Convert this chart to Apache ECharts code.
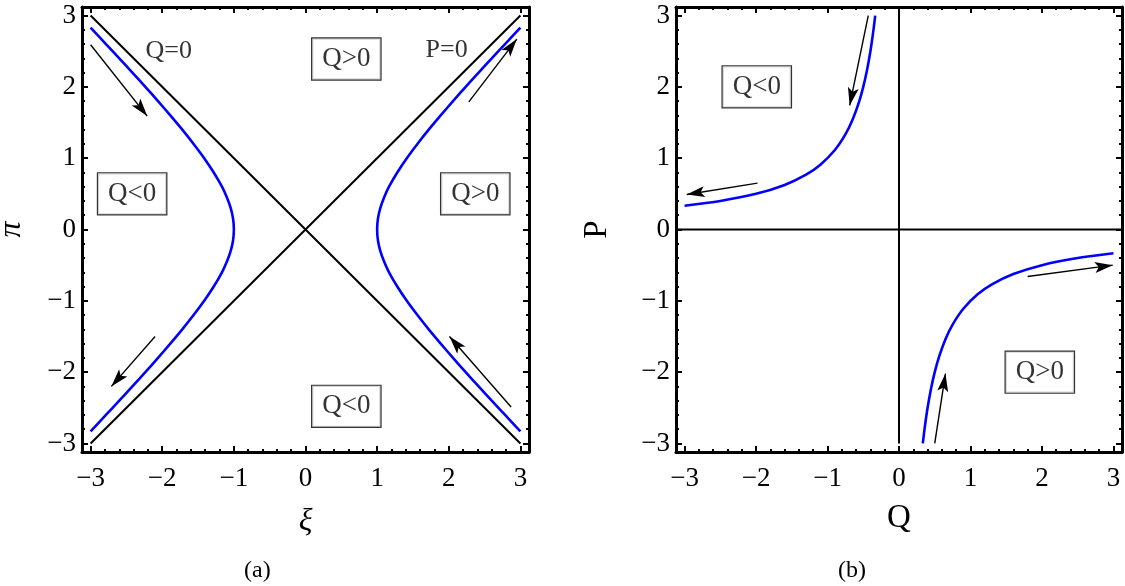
<!DOCTYPE html>
<html>
<head>
<meta charset="utf-8">
<script src="https://cdn.jsdelivr.net/npm/echarts@6/dist/echarts.min.js"></script>
<style>
html,body{margin:0;padding:0;background:#fff;}
#chart{width:1125px;height:586px;}
</style>
</head>
<body>
<div id="chart"></div>
<script>
// ---------- data ----------
const axisMin = -3.12;
const axisMax = 3.12;
const majorTicks = [-3, -2, -1, 0, 1, 2, 3];
const minorTicks = [-3, -2.8, -2.6, -2.4, -2.2, -2, -1.8, -1.6, -1.4, -1.2, -1, -0.8, -0.6, -0.4, -0.2, 0,
  0.2, 0.4, 0.6, 0.8, 1, 1.2, 1.4, 1.6, 1.8, 2, 2.2, 2.4, 2.6, 2.8, 3];

// panel (a): asymptotes and hyperbola branches (xi, pi)
const diagRising = [[-3, -3], [3, 3]];
const diagFalling = [[-3, 3], [3, -3]];
const hyperRight = [[3.0, -2.83], [2.786, -2.6], [2.6, -2.4], [2.417, -2.2], [2.236, -2.0], [2.059, -1.8],
  [1.887, -1.6], [1.72, -1.4], [1.562, -1.2], [1.414, -1.0], [1.281, -0.8], [1.166, -0.6], [1.097, -0.45],
  [1.044, -0.3], [1.011, -0.15], [1.0, 0], [1.011, 0.15], [1.044, 0.3], [1.097, 0.45], [1.166, 0.6],
  [1.281, 0.8], [1.414, 1.0], [1.562, 1.2], [1.72, 1.4], [1.887, 1.6], [2.059, 1.8], [2.236, 2.0],
  [2.417, 2.2], [2.6, 2.4], [2.786, 2.6], [3.0, 2.83]];
const hyperLeft = [[-3.0, -2.83], [-2.786, -2.6], [-2.6, -2.4], [-2.417, -2.2], [-2.236, -2.0], [-2.059, -1.8],
  [-1.887, -1.6], [-1.72, -1.4], [-1.562, -1.2], [-1.414, -1.0], [-1.281, -0.8], [-1.166, -0.6], [-1.097, -0.45],
  [-1.044, -0.3], [-1.011, -0.15], [-1.0, 0], [-1.011, 0.15], [-1.044, 0.3], [-1.097, 0.45], [-1.166, 0.6],
  [-1.281, 0.8], [-1.414, 1.0], [-1.562, 1.2], [-1.72, 1.4], [-1.887, 1.6], [-2.059, 1.8], [-2.236, 2.0],
  [-2.417, 2.2], [-2.6, 2.4], [-2.786, 2.6], [-3.0, 2.83]];
const arrowsA = [
  [[-3.0, 2.59], [-2.21, 1.59]],
  [[-2.10, -1.50], [-2.71, -2.20]],
  [[2.87, -2.49], [2.01, -1.50]],
  [[2.28, 1.79], [2.95, 2.67]]
];
const boxesA = [['Q>0', 0.57, 2.39], ['Q<0', -2.42, 0.50], ['Q>0', 2.37, 0.50], ['Q<0', 0.57, -2.48]];
const notesA = [['Q=0', -1.91, 2.50], ['P=0', 1.97, 2.52]];

// panel (b): coordinate axes and branches (Q, P)
const zeroH = [[-3.12, 0], [3.12, 0]];
const zeroV = [[0, -3.0], [0, 3.12]];
const branchUpper = [[-3.0, 0.333], [-2.5, 0.4], [-2.0, 0.5], [-1.6, 0.625], [-1.3, 0.769], [-1.1, 0.909],
  [-0.9, 1.111], [-0.75, 1.333], [-0.65, 1.538], [-0.56, 1.786], [-0.5, 2.0], [-0.45, 2.222], [-0.4, 2.5],
  [-0.36, 2.778], [-0.333, 3.0]];
const branchLower = [[0.333, -3.0], [0.36, -2.778], [0.4, -2.5], [0.45, -2.222], [0.5, -2.0], [0.56, -1.786],
  [0.65, -1.538], [0.75, -1.333], [0.9, -1.111], [1.1, -0.909], [1.3, -0.769], [1.6, -0.625], [2.0, -0.5],
  [2.5, -0.4], [3.0, -0.333]];
const arrowsB = [
  [[-0.43, 3.0], [-0.69, 1.74]],
  [[-1.98, 0.65], [-2.97, 0.49]],
  [[0.50, -3.0], [0.65, -2.02]],
  [[1.80, -0.66], [2.99, -0.50]]
];
const boxesB = [['Q<0', -1.99, 2.0], ['Q>0', 1.97, -2.0]];

// ---------- styling helpers ----------
const serif = 'Liberation Serif';
const fmt = v => String(v).replace('-', '\u2212');
const arrowHead = 'path://M0,0 L5.5,18 L0,14 L-5.5,18 Z M-18,-18 L-18,-18 M18,18 L18,18';

function frameAxes(dim, grid, name, nameGap, nameStyle) {
  const posA = dim === 'x' ? 'bottom' : 'left';
  const posB = dim === 'x' ? 'top' : 'right';
  const base = {
    type: 'value', gridIndex: grid, min: axisMin, max: axisMax,
    splitLine: {show: false}, axisPointer: {show: false}
  };
  const line = {show: true, onZero: false, lineStyle: {color: '#000', width: 3}};
  const major = {show: true, inside: true, length: 6, customValues: majorTicks, lineStyle: {color: '#000', width: 2}};
  const minor = {show: true, inside: true, length: 3, customValues: minorTicks, lineStyle: {color: '#000', width: 2}};
  return [
    Object.assign({}, base, {
      position: posA, axisLine: line, axisTick: major,
      axisLabel: {show: true, customValues: majorTicks, formatter: fmt, margin: dim === 'x' ? 13 : 6,
        fontFamily: serif, fontSize: 27, color: '#000'},
      name: name, nameLocation: 'middle', nameGap: nameGap, nameTextStyle: nameStyle
    }),
    Object.assign({}, base, {position: posB, axisLine: line, axisTick: major, axisLabel: {show: false}}),
    Object.assign({}, base, {position: posA, axisLine: {show: false, onZero: false}, axisTick: minor, axisLabel: {show: false}}),
    Object.assign({}, base, {position: posB, axisLine: {show: false, onZero: false}, axisTick: minor, axisLabel: {show: false}})
  ];
}

function curve(ai, data, color, width, smooth) {
  return {
    type: 'line', xAxisIndex: ai, yAxisIndex: ai, data: data, symbol: 'none', showSymbol: false,
    smooth: smooth ? 0.3 : false,
    lineStyle: {color: color, width: width}, silent: true, z: 3
  };
}

function arrows(ai, list) {
  return {
    type: 'lines', coordinateSystem: 'cartesian2d', xAxisIndex: ai, yAxisIndex: ai,
    data: list.map(a => ({coords: [a[0], a[1]]})),
    symbol: ['none', arrowHead], symbolSize: [1, 36],
    lineStyle: {color: '#000', width: 1.4, opacity: 1, curveness: 0},
    silent: true, z: 5
  };
}

function labels(ai, list, boxed) {
  return {
    type: 'scatter', xAxisIndex: ai, yAxisIndex: ai,
    data: list.map(b => ({name: b[0], value: [b[1], b[2]]})),
    symbolSize: 1, itemStyle: {color: 'rgba(0,0,0,0)'}, silent: true, z: 6,
    label: boxed ? {
      show: true, position: 'inside', formatter: '{b}', fontFamily: serif, fontSize: 27, color: '#000',
      backgroundColor: '#fff', borderColor: '#000', borderWidth: 1.2, padding: [8, 10, 6, 10]
    } : {
      show: true, position: 'inside', formatter: '{b}', fontFamily: serif, fontSize: 26, color: '#000'
    }
  };
}

const nameItalic = {fontFamily: serif, fontSize: 32, fontStyle: 'italic', color: '#000'};
const nameUpright = {fontFamily: serif, fontSize: 33, color: '#000'};

const option = {
  animation: false,
  backgroundColor: '#fff',
  grid: [
    {left: 82, top: 7, width: 447, height: 445, containLabel: false, outerBoundsMode: 'none'},
    {left: 676, top: 7, width: 446, height: 445, containLabel: false, outerBoundsMode: 'none'}
  ],
  xAxis: [].concat(
    frameAxes('x', 0, '\u03be', 54, nameItalic),
    frameAxes('x', 1, 'Q', 50, nameUpright)
  ),
  yAxis: [].concat(
    frameAxes('y', 0, '\u03c0', 54, nameItalic),
    frameAxes('y', 1, 'P', 62, nameUpright)
  ),
  series: [
    curve(0, diagRising, '#000', 2),
    curve(0, diagFalling, '#000', 2),
    curve(0, hyperRight, '#0000ff', 2.6, true),
    curve(0, hyperLeft, '#0000ff', 2.6, true),
    arrows(0, arrowsA),
    labels(0, boxesA, true),
    labels(0, notesA, false),
    curve(4, zeroH, '#000', 2),
    curve(4, zeroV, '#000', 2),
    curve(4, branchUpper, '#0000ff', 2.6, true),
    curve(4, branchLower, '#0000ff', 2.6, true),
    arrows(4, arrowsB),
    labels(4, boxesB, true)
  ],
  graphic: [
    {type: 'text', left: 244, top: 559, style: {text: '(a)', font: '24px "Liberation Serif"', fill: '#000'}},
    {type: 'text', left: 838, top: 559, style: {text: '(b)', font: '24px "Liberation Serif"', fill: '#000'}}
  ]
};

const chart = echarts.init(document.getElementById('chart'), null, {renderer: 'canvas'});
chart.setOption(option);
</script>
</body>
</html>
